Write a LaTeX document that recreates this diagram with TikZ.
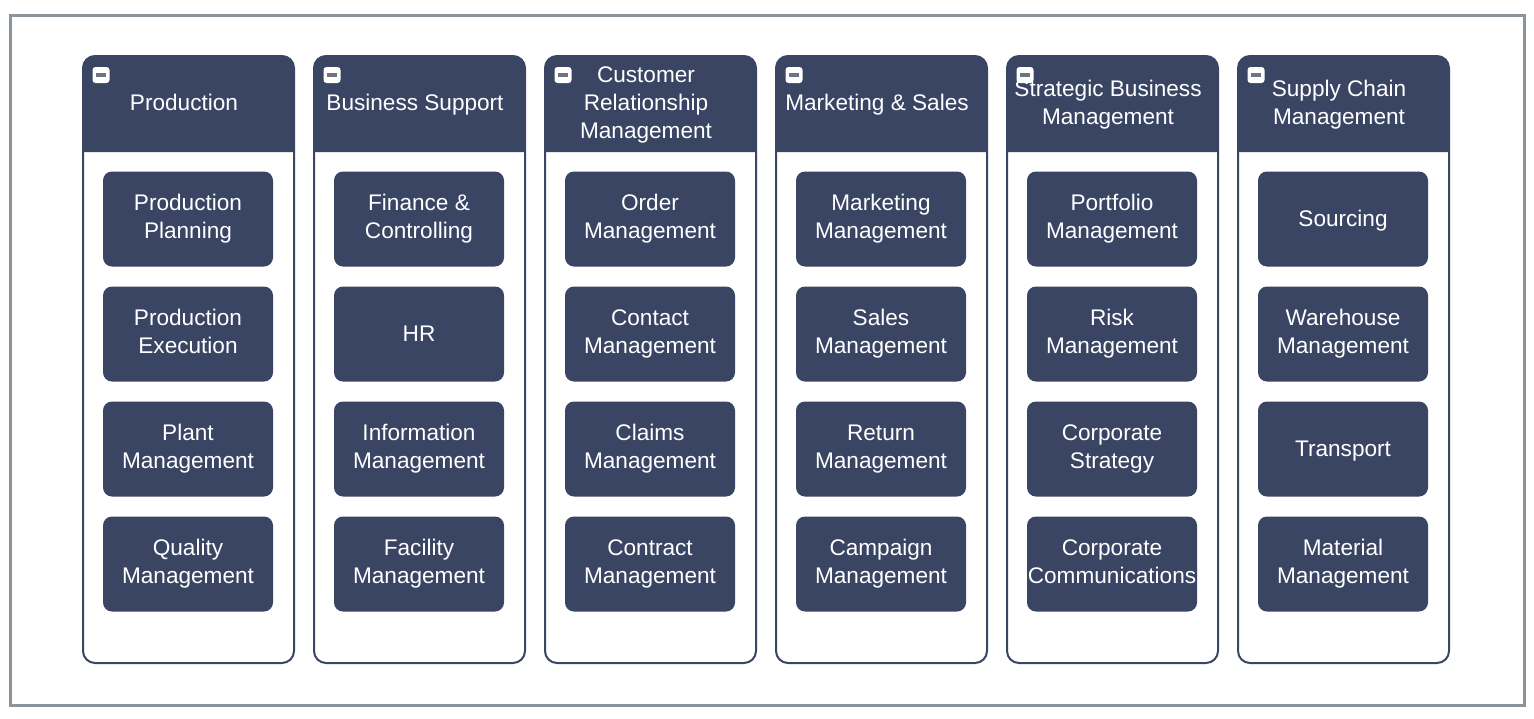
\documentclass[tikz,border=0pt]{standalone}
\usepackage{fontspec}
\setmainfont{Liberation Sans}
\definecolor{navy}{RGB}{57,69,99}
\definecolor{framegray}{RGB}{138,148,156}
\definecolor{minusgray}{RGB}{110,116,132}
\newcommand{\topstrut}{\rule{0pt}{9.8pt}}
\newcommand{\botstrut}{\rule[-2.2pt]{0pt}{2.2pt}}
\tikzset{
  colbox/.style={draw=navy, line width=1pt, fill=white, rounded corners=6pt},
  colhead/.style={fill=navy},
  headtext/.style={text=white, align=center, font=\fontsize{11.3}{14}\selectfont,
    execute at begin node=\topstrut, execute at end node=\botstrut},
  unit/.style={fill=navy, rounded corners=4.5pt, minimum width=85pt, minimum height=47.5pt,
    text=white, align=center, inner sep=0pt, font=\fontsize{11.3}{14}\selectfont,
    execute at begin node=\topstrut, execute at end node=\botstrut},
  minusbox/.style={fill=white, rounded corners=1.5pt, minimum width=8.5pt, minimum height=8pt,
    inner sep=0pt, path picture={\draw[minusgray, line width=1.6pt]
      ([xshift=1.8pt]path picture bounding box.west) -- ([xshift=-1.8pt]path picture bounding box.east);}}
}

\begin{document}
\begin{tikzpicture}[x=0.5pt,y=-0.5pt]
\useasboundingbox (0,0) rectangle (1534,718);
\draw[framegray, line width=1.5pt] (10,15) rectangle (1524,705);

% columns
\draw[colbox] (83,56) rectangle (294,663);
\draw[colbox] (314,56) rectangle (525,663);
\draw[colbox] (545,56) rectangle (756,663);
\draw[colbox] (776,56) rectangle (987,663);
\draw[colbox] (1007,56) rectangle (1218,663);
\draw[colbox] (1238,56) rectangle (1449,663);

% headers
\fill[colhead] (83,152) [rounded corners=6pt] -- (83,56) -- (294,56) [sharp corners] -- (294,152) -- cycle;
\fill[colhead] (314,152) [rounded corners=6pt] -- (314,56) -- (525,56) [sharp corners] -- (525,152) -- cycle;
\fill[colhead] (545,152) [rounded corners=6pt] -- (545,56) -- (756,56) [sharp corners] -- (756,152) -- cycle;
\fill[colhead] (776,152) [rounded corners=6pt] -- (776,56) -- (987,56) [sharp corners] -- (987,152) -- cycle;
\fill[colhead] (1007,152) [rounded corners=6pt] -- (1007,56) -- (1218,56) [sharp corners] -- (1218,152) -- cycle;
\fill[colhead] (1238,152) [rounded corners=6pt] -- (1238,56) -- (1449,56) [sharp corners] -- (1449,152) -- cycle;

\node[minusbox] (prodmin) at (101,75) {};
\node[minusbox] (supmin) at (332,75) {};
\node[minusbox] (crmmin) at (563,75) {};
\node[minusbox] (salesmin) at (794,75) {};
\node[minusbox] (stratmin) at (1025,75) {};
\node[minusbox] (chainmin) at (1256,75) {};

\node[headtext] (prodhead) at (184,103) {Production};
\node[headtext] (suphead) at (415,103) {Business Support};
\node[headtext] (crmhead) at (646,105) {Customer\\Relationship\\Management};
\node[headtext] (saleshead) at (877,103) {Marketing \& Sales};
\node[headtext] (strathead) at (1108,105) {Strategic Business\\Management};
\node[headtext] (chainhead) at (1339,105) {Supply Chain\\Management};

% production
\node[unit] (prod1) at (188,219) {Production\\Planning};
\node[unit] (prod2) at (188,334) {Production\\Execution};
\node[unit] (prod3) at (188,449) {Plant\\Management};
\node[unit] (prod4) at (188,564) {Quality\\Management};

% business support
\node[unit] (sup1) at (419,219) {Finance \&\\Controlling};
\node[unit] (sup2) at (419,334) {HR};
\node[unit] (sup3) at (419,449) {Information\\Management};
\node[unit] (sup4) at (419,564) {Facility\\Management};

% customer relationship
\node[unit] (crm1) at (650,219) {Order\\Management};
\node[unit] (crm2) at (650,334) {Contact\\Management};
\node[unit] (crm3) at (650,449) {Claims\\Management};
\node[unit] (crm4) at (650,564) {Contract\\Management};

% marketing and sales
\node[unit] (sales1) at (881,219) {Marketing\\Management};
\node[unit] (sales2) at (881,334) {Sales\\Management};
\node[unit] (sales3) at (881,449) {Return\\Management};
\node[unit] (sales4) at (881,564) {Campaign\\Management};

% strategic
\node[unit] (strat1) at (1112,219) {Portfolio\\Management};
\node[unit] (strat2) at (1112,334) {Risk\\Management};
\node[unit] (strat3) at (1112,449) {Corporate\\Strategy};
\node[unit] (strat4) at (1112,564) {Corporate\\Communications};

% supply chain
\node[unit] (chain1) at (1343,219) {Sourcing};
\node[unit] (chain2) at (1343,334) {Warehouse\\Management};
\node[unit] (chain3) at (1343,449) {Transport};
\node[unit] (chain4) at (1343,564) {Material\\Management};

\end{tikzpicture}
\end{document}
